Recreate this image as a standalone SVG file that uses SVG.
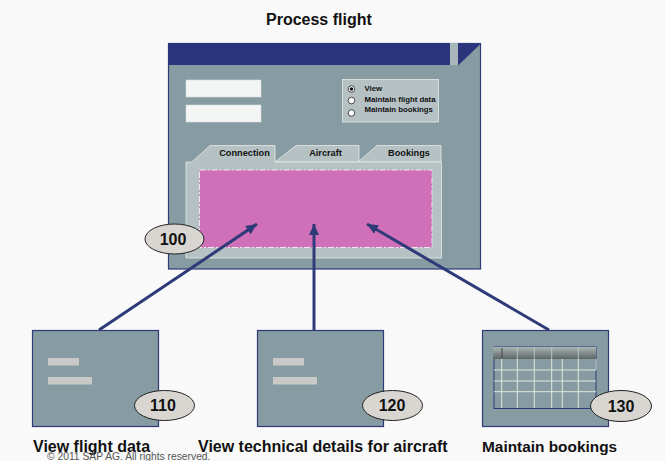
<svg xmlns="http://www.w3.org/2000/svg" width="665" height="461" viewBox="0 0 665 461">
<style>
text{font-family:"Liberation Sans",Arial,sans-serif;font-weight:bold;fill:#111}
.box{fill:#869ca2;stroke:#2f3a78;stroke-width:1.2}
.lab{font-size:16px}
.tab{font-size:9.200px;text-anchor:middle}
.rad{font-size:7.800px}
.num{font-size:16px;text-anchor:middle}
.oval{fill:#d9d6d2;stroke:#222;stroke-width:1}
.fld{fill:#f4f6f6;stroke:#d5dcdc;stroke-width:.6}
.pale{fill:#b6c1c4;stroke:#e4ebe8;stroke-width:.8}
.bar{fill:#c9c9c7}
.rb{fill:#fff;stroke:#222;stroke-width:.8}
.grid{stroke:#dfe8dc;stroke-width:1;fill:none}
.conn{stroke:#2f3a78;stroke-width:3;fill:none;marker-end:url(#ah)}
</style>
<defs>
<marker id="ah" markerUnits="userSpaceOnUse" markerWidth="12" markerHeight="10" refX="11" refY="5" orient="auto"><path d="M0 0L11 5L0 10Z" fill="#2f3a78"/></marker>
<linearGradient id="hd" x1="0" y1="0" x2="0" y2="1"><stop offset="0" stop-color="#a9b5b5"/><stop offset="1" stop-color="#5f6664"/></linearGradient>
</defs>
<rect width="665" height="461" fill="#f9f9f9"/>
<text x="266" y="25" style="font-size:16px">Process flight</text>
<g id="main-window">
<rect class="box" x="168.500" y="43.500" width="312" height="225.500"/>
<rect x="168" y="43" width="282" height="22" fill="#2b357c"/>
<rect x="450" y="43" width="8" height="22" fill="#a9b6ba"/>
<path d="M458 44H480.500L458 65.500Z" fill="#2b357c"/>
<rect class="fld" x="186" y="80" width="75" height="17"/>
<rect class="fld" x="186" y="105" width="75" height="17"/>
<rect class="pale" x="342.500" y="79.500" width="96" height="42.500"/>
<circle class="rb" cx="351.500" cy="89" r="3.300"/><circle cx="351.500" cy="89" r="1.800" fill="#111"/>
<circle class="rb" cx="351.500" cy="100.500" r="3.300"/>
<circle class="rb" cx="351.500" cy="113" r="3.300"/>
<text class="rad" x="364.500" y="91">View</text>
<text class="rad" x="364.500" y="102">Maintain flight data</text>
<text class="rad" x="364.500" y="112">Maintain bookings</text>
<path class="pale" d="M358 162L377 145.500H441V162Z"/>
<path class="pale" d="M275 162L296 145.500H359V162Z"/>
<path class="pale" d="M186 258V162H192L210 145.500H275V162H441.500V258Z"/>
<rect x="199.500" y="170" width="232.500" height="77.500" fill="#d070b8" stroke="#f0e4ee" stroke-width="1" stroke-dasharray="6 2 2 2"/>
<text class="tab" x="244.500" y="156">Connection</text>
<text class="tab" x="325.500" y="156">Aircraft</text>
<text class="tab" x="409" y="156">Bookings</text>
</g>
<g id="connectors">
<path class="conn" d="M99 330L257 224"/>
<path class="conn" d="M314 330V224"/>
<path class="conn" d="M549 330L367 224"/>
</g>
<g id="node-100">
<ellipse class="oval" cx="174.500" cy="239" rx="29.500" ry="15"/>
<text class="num" x="173" y="245">100</text>
</g>
<g id="node-110">
<rect class="box" x="32.500" y="330.500" width="126" height="96"/>
<rect class="bar" x="48" y="358" width="31" height="7.500"/>
<rect class="bar" x="48" y="377" width="44" height="7.500"/>
<ellipse class="oval" cx="164.500" cy="405.500" rx="30" ry="15"/>
<text class="num" x="163" y="411">110</text>
<text class="lab" x="33" y="452">View flight data</text>
</g>
<g id="node-120">
<rect class="box" x="257.500" y="330.500" width="126" height="96"/>
<rect class="bar" x="273" y="358" width="31" height="7.500"/>
<rect class="bar" x="273" y="377" width="44" height="7.500"/>
<ellipse class="oval" cx="392.500" cy="405.500" rx="30" ry="15"/>
<text class="num" x="392" y="411">120</text>
<text class="lab" x="198" y="452">View technical details for aircraft</text>
</g>
<g id="node-130">
<rect class="box" x="482.500" y="330.500" width="126" height="96"/>
<rect x="494" y="347" width="102" height="61.500" fill="none" stroke="#2f3a78" stroke-width="1"/>
<path class="grid" d="M501.700 359V408M517.300 359V408M534.300 359V408M551.700 359V408M562.300 359V408M578.300 359V408M596 359V370M494 370H596M494 381H596M494 391.700H596"/>
<rect x="493" y="347" width="103" height="12" fill="url(#hd)"/>
<path d="M502 348V358" stroke="#444" stroke-width="1"/>
<path d="M517.300 347V359M534.300 347V359M551.700 347V359M578.300 347V359" stroke="#c5cfcb" stroke-width=".8"/>
<ellipse class="oval" cx="621" cy="406" rx="30.500" ry="15.500"/>
<text class="num" x="621" y="412">130</text>
<text class="lab" x="482" y="452" style="font-size:15.400px">Maintain bookings</text>
</g>
<text x="47" y="460" style="font-size:10.300px;font-weight:normal;fill:#555">© 2011 SAP AG. All rights reserved.</text>
</svg>
